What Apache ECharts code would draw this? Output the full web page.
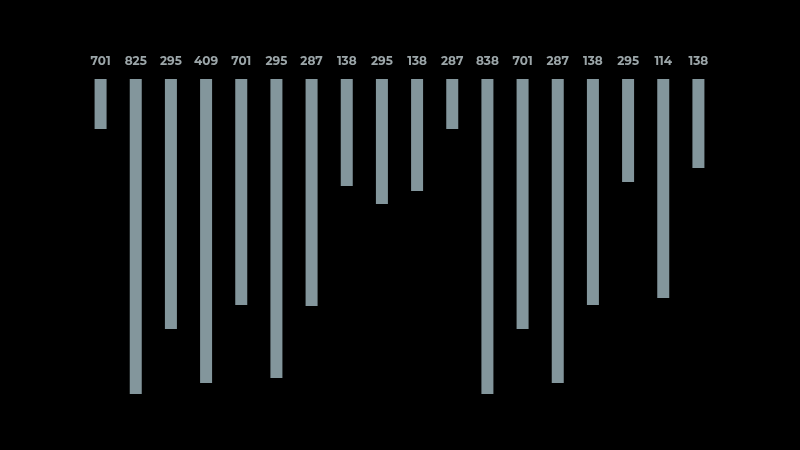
<!DOCTYPE html>
<html>
<head>
<meta charset="utf-8">
<script src="https://cdn.jsdelivr.net/npm/echarts@6/dist/echarts.min.js"></script>
<style>
html,body{margin:0;padding:0;background:#000;}
#chart{width:800px;height:450px;}
</style>
</head>
<body>
<div id="chart"></div>
<script>
const tickLabels = ['701','825','295','409','701','295','287','138','295','138','287','838','701','287','138','295','114','138'];
const barLengths = [50,315,250,304,226,299,227,107,125,112,50,315,250,304,226,103,219,89];

const chart = echarts.init(document.getElementById('chart'));
chart.setOption({
  backgroundColor: '#000000',
  animation: false,
  grid: { left: 83, right: 84, top: 79, bottom: 21 },
  xAxis: {
    type: 'category',
    position: 'top',
    data: tickLabels,
    axisLine: { show: false },
    axisTick: { show: false },
    axisLabel: {
      margin: 12,
      color: '#9ba5a8',
      fontFamily: 'Montserrat, Lato, "Open Sans", sans-serif',
      fontWeight: 'bold',
      fontSize: 12,
      interval: 0
    }
  },
  yAxis: {
    type: 'value',
    inverse: true,
    min: 0,
    max: 350,
    show: false,
    splitLine: { show: false }
  },
  series: [{
    type: 'bar',
    data: barLengths,
    barWidth: 12,
    itemStyle: { color: '#83969c' }
  }]
});
</script>
</body>
</html>
